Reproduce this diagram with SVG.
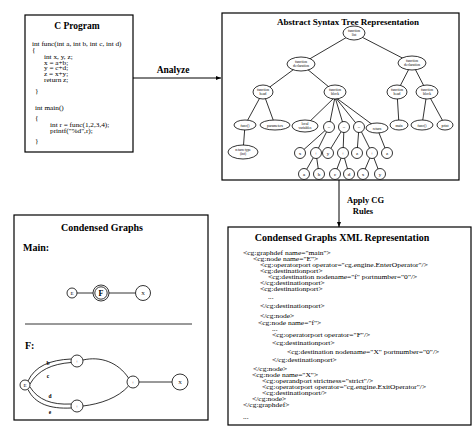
<svg xmlns="http://www.w3.org/2000/svg" width="474" height="428" viewBox="0 0 474 428">
<defs>
<style>
.box{fill:#fff;stroke:#000;stroke-width:1.2}
.t{font-family:"Liberation Serif",serif;font-weight:bold;fill:#000}
.code{font-family:"Liberation Serif",serif;font-size:6.6px;fill:#000}
.nd ellipse,.nd circle{fill:#fff;stroke:#000;stroke-width:0.8}
.lb{font-family:"Liberation Serif",serif;font-size:3.6px;text-anchor:middle;fill:#000}
.cl{font-family:"Liberation Serif",serif;font-size:5px;text-anchor:middle;fill:#000}
.e{stroke:#000;stroke-width:0.8;fill:none}
.ar{stroke:#000;stroke-width:1;fill:none}
</style>
<marker id="ah" viewBox="0 0 10 10" refX="10" refY="5" markerWidth="5" markerHeight="5" orient="auto">
<path d="M0,1 L10,5 L0,9 Z" fill="#000"/>
</marker>
</defs>
<rect width="474" height="428" fill="#fff"/>

<!-- C Program -->
<g id="c-program">
<rect class="box" x="25" y="15" width="108" height="137"/>
<text class="t" x="77" y="29" font-size="9.5" text-anchor="middle">C Program</text>
<g transform="translate(32,0) scale(1.1,1) translate(-32,0)">
<text class="code" x="32" y="46.5">int func(int a, int b, int c, int d)</text>
<text class="code" x="32" y="52.5">{</text>
<text class="code" x="42.9" y="59">int x, y, z;</text>
<text class="code" x="42.9" y="65">x = a+b;</text>
<text class="code" x="42.9" y="70.5">y = c+d;</text>
<text class="code" x="42.9" y="76">z = x+y;</text>
<text class="code" x="42.9" y="82">return z;</text>
<text class="code" x="34.7" y="93">}</text>
<text class="code" x="34.7" y="110">int main()</text>
<text class="code" x="34.7" y="120">{</text>
<text class="code" x="48.4" y="127">int r = func(1,2,3,4);</text>
<text class="code" x="48.4" y="133">printf("%d",r);</text>
<text class="code" x="34.7" y="143">}</text>
</g>
</g>

<!-- AST box -->
<g id="ast">
<rect class="box" x="222" y="13" width="237" height="167"/>
<text class="t" x="348" y="25" font-size="9" text-anchor="middle">Abstract Syntax Tree Representation</text>
</g>

<!-- Condensed Graphs box -->
<g id="condensed-graphs">
<rect class="box" x="14" y="215" width="194" height="205"/>
<text class="t" x="102" y="231" font-size="10" text-anchor="middle">Condensed Graphs</text>
<text class="t" x="23" y="251" font-size="10">Main:</text>
<line x1="25" y1="324" x2="192" y2="324" stroke="#000" stroke-width="0.8"/>
<text class="t" x="25" y="349" font-size="10">F:</text>
<text class="t" x="48" y="365" font-size="5.5" text-anchor="middle">b</text>
<text class="t" x="48" y="378" font-size="5.5" text-anchor="middle">c</text>
<text class="t" x="50" y="398" font-size="5.5" text-anchor="middle">d</text>
<text class="t" x="50" y="414" font-size="5.5" text-anchor="middle">e</text>
</g>

<!-- XML box -->
<g id="xml">
<rect class="box" x="228" y="227" width="243" height="198"/>
<text class="t" x="342" y="241" font-size="10" text-anchor="middle">Condensed Graphs XML Representation</text>
<g transform="translate(243,0) scale(1.14,1) translate(-243,0)">
<text class="code" x="243" y="255">&lt;cg:graphdef name="main"&gt;</text>
<text class="code" x="251.8" y="261">&lt;cg:node name="E"&gt;</text>
<text class="code" x="257.9" y="267">&lt;cg:operatorport operator="cg.engine.EnterOperator"/&gt;</text>
<text class="code" x="257.9" y="273">&lt;cg:destinationport&gt;</text>
<text class="code" x="264.9" y="279">&lt;cg:destination nodename="f" portnumber="0"/&gt;</text>
<text class="code" x="257.9" y="285">&lt;/cg:destinationport&gt;</text>
<text class="code" x="257.9" y="291">&lt;cg:destinationport&gt;</text>
<text class="code" x="264.9" y="299">...</text>
<text class="code" x="257.9" y="308">&lt;/cg:destinationport&gt;</text>
<text class="code" x="257.9" y="318">&lt;/cg:node&gt;</text>
<text class="code" x="256.2" y="325">&lt;cg:node name="f"&gt;</text>
<text class="code" x="268.4" y="331">...</text>
<text class="code" x="268.4" y="337.5">&lt;cg:operatorport operator="F"/&gt;</text>
<text class="code" x="268.4" y="345">&lt;cg:destinationport&gt;</text>
<text class="code" x="281.6" y="354">&lt;cg:destination nodename="X" portnumber="0"/&gt;</text>
<text class="code" x="268.4" y="362.5">&lt;/cg:destinationport&gt;</text>
<text class="code" x="251.8" y="371">&lt;/cg:node&gt;</text>
<text class="code" x="250.9" y="377.5">&lt;cg:node name="X"&gt;</text>
<text class="code" x="259.7" y="383.5">&lt;cg:operandport strictness="strict"/&gt;</text>
<text class="code" x="259.7" y="389.5">&lt;cg:operatorport operator="cg.engine.ExitOperator"/&gt;</text>
<text class="code" x="259.7" y="395.5">&lt;cg:destinationport/&gt;</text>
<text class="code" x="250.9" y="401.5">&lt;/cg:node&gt;</text>
<text class="code" x="243" y="407.5">&lt;/cg:graphdef&gt;</text>
<text class="code" x="243" y="419">...</text>
</g>
</g>

<g id="connectors">
<line class="ar" x1="133" y1="78" x2="221" y2="78" marker-end="url(#ah)"/>
<line class="ar" x1="339" y1="180" x2="339" y2="227" marker-end="url(#ah)"/>
<g class="e">
<line x1="354" y1="33" x2="301" y2="64"/>
<line x1="354" y1="33" x2="412" y2="63"/>
<line x1="301" y1="64" x2="263" y2="92"/>
<line x1="301" y1="64" x2="335" y2="92"/>
<line x1="412" y1="63" x2="397" y2="92"/>
<line x1="412" y1="63" x2="427" y2="92"/>
<line x1="263" y1="92" x2="245" y2="125"/>
<line x1="263" y1="92" x2="275" y2="125"/>
<line x1="245" y1="125" x2="243" y2="152"/>
<line x1="335" y1="97" x2="305" y2="126"/>
<line x1="335" y1="97" x2="329" y2="127"/>
<line x1="335" y1="97" x2="344" y2="127"/>
<line x1="335" y1="97" x2="359" y2="127"/>
<line x1="335" y1="97" x2="377" y2="128"/>
<line x1="329" y1="127" x2="300" y2="153"/>
<line x1="329" y1="127" x2="316" y2="153"/>
<line x1="316" y1="153" x2="304" y2="174"/>
<line x1="316" y1="153" x2="319" y2="174"/>
<line x1="344" y1="127" x2="328" y2="153"/>
<line x1="344" y1="127" x2="343" y2="153"/>
<line x1="343" y1="153" x2="335" y2="174"/>
<line x1="343" y1="153" x2="349" y2="174"/>
<line x1="359" y1="127" x2="357" y2="153"/>
<line x1="359" y1="127" x2="372" y2="153"/>
<line x1="372" y1="153" x2="363" y2="174"/>
<line x1="372" y1="153" x2="380" y2="174"/>
<line x1="377" y1="128" x2="387" y2="153"/>
<line x1="397" y1="92" x2="399" y2="125"/>
<line x1="427" y1="92" x2="422" y2="125"/>
<line x1="427" y1="92" x2="445" y2="125"/>
</g>
<g class="e">
<line x1="77" y1="293" x2="93" y2="293"/>
<line x1="109" y1="293" x2="135.5" y2="293"/>
<path d="M28,381 C35,366 50,360 71,359"/>
<path d="M30,384 C38,370 52,364 71,362.5"/>
<path d="M30,387 C38,400 52,405 71,404"/>
<path d="M28,389.5 C35,404 50,409 71,408"/>
<path d="M83,360 C100,356 118,362 128.5,378"/>
<path d="M83,406 C100,404 118,398 128.5,386"/>
<line x1="139" y1="382" x2="172" y2="382"/>
</g>
</g>

<text class="t" x="173" y="73" font-size="9.5" text-anchor="middle">Analyze</text>
<text class="t" x="347" y="203" font-size="8.5">Apply CG</text>
<text class="t" x="363" y="214" font-size="8.5" text-anchor="middle">Rules</text>

<g id="ast-nodes">
<g class="nd" id="n-root"><ellipse cx="354" cy="33" rx="11" ry="7"/><text class="lb" x="354" y="32">function</text><text class="lb" x="354" y="36">list</text></g>
<g class="nd" id="n-declL"><ellipse cx="301" cy="64" rx="14" ry="7"/><text class="lb" x="301" y="63">function</text><text class="lb" x="301" y="67">declaration</text></g>
<g class="nd" id="n-declR"><ellipse cx="412" cy="63" rx="14" ry="7"/><text class="lb" x="412" y="62">function</text><text class="lb" x="412" y="66">declaration</text></g>
<g class="nd" id="n-headL"><ellipse cx="263" cy="92" rx="10" ry="7"/><text class="lb" x="263" y="91">function</text><text class="lb" x="263" y="95">head</text></g>
<g class="nd" id="n-blockL"><ellipse cx="335" cy="92" rx="11" ry="7"/><text class="lb" x="335" y="91">function</text><text class="lb" x="335" y="95">block</text></g>
<g class="nd" id="n-headR"><ellipse cx="397" cy="92" rx="10" ry="7"/><text class="lb" x="397" y="91">function</text><text class="lb" x="397" y="95">head</text></g>
<g class="nd" id="n-blockR"><ellipse cx="427" cy="92" rx="11" ry="7"/><text class="lb" x="427" y="91">function</text><text class="lb" x="427" y="95">block</text></g>
<g class="nd" id="n-funcL"><ellipse cx="245" cy="125" rx="11" ry="5"/><text class="lb" x="245" y="126.5">func()</text></g>
<g class="nd" id="n-params"><ellipse cx="275" cy="125" rx="15" ry="5"/><text class="lb" x="275" y="126.5">parameters</text></g>
<g class="nd" id="n-ret"><ellipse cx="243" cy="152" rx="15" ry="7"/><text class="lb" x="243" y="151">return type</text><text class="lb" x="243" y="155">(int)</text></g>
<g class="nd" id="n-local"><ellipse cx="305" cy="126" rx="13" ry="6"/><text class="lb" x="305" y="125">local</text><text class="lb" x="305" y="129">variables</text></g>
<g class="nd" id="n-eq1"><circle cx="329" cy="127" r="5.5"/><text class="cl" x="329" y="128.8">=</text></g>
<g class="nd" id="n-eq2"><circle cx="344" cy="127" r="5.5"/><text class="cl" x="344" y="128.8">=</text></g>
<g class="nd" id="n-eq3"><circle cx="359" cy="127" r="5.5"/><text class="cl" x="359" y="128.8">=</text></g>
<g class="nd" id="n-return"><ellipse cx="377" cy="128" rx="11" ry="5"/><text class="lb" x="377" y="129.5">return</text></g>
<g class="nd" id="n-main"><ellipse cx="399" cy="125" rx="9" ry="5"/><text class="lb" x="399" y="126.5">main</text></g>
<g class="nd" id="n-funcR"><ellipse cx="422" cy="125" rx="11" ry="5"/><text class="lb" x="422" y="126.5">func()</text></g>
<g class="nd" id="n-print"><ellipse cx="445" cy="125" rx="8" ry="5"/><text class="lb" x="445" y="126.5">print</text></g>
<g class="nd" id="n-x1"><circle cx="300" cy="153" r="5.5"/><text class="cl" x="300" y="154.6">x</text></g>
<g class="nd" id="n-p1"><circle cx="316" cy="153" r="5.5"/><text class="cl" x="316" y="154.6">+</text></g>
<g class="nd" id="n-y1"><circle cx="328" cy="153" r="5.5"/><text class="cl" x="328" y="154.6">y</text></g>
<g class="nd" id="n-p2"><circle cx="343" cy="153" r="5.5"/><text class="cl" x="343" y="154.6">+</text></g>
<g class="nd" id="n-z1"><circle cx="357" cy="153" r="5.5"/><text class="cl" x="357" y="154.6">z</text></g>
<g class="nd" id="n-p3"><circle cx="372" cy="153" r="5.5"/><text class="cl" x="372" y="154.6">+</text></g>
<g class="nd" id="n-z2"><circle cx="387" cy="153" r="5.5"/><text class="cl" x="387" y="154.6">z</text></g>
<g class="nd" id="n-a"><circle cx="304" cy="174" r="5.5"/><text class="cl" x="304" y="175.6">a</text></g>
<g class="nd" id="n-b"><circle cx="319" cy="174" r="5.5"/><text class="cl" x="319" y="175.6">b</text></g>
<g class="nd" id="n-c"><circle cx="335" cy="174" r="5.5"/><text class="cl" x="335" y="175.6">c</text></g>
<g class="nd" id="n-d"><circle cx="349" cy="174" r="5.5"/><text class="cl" x="349" y="175.6">d</text></g>
<g class="nd" id="n-x2"><circle cx="363" cy="174" r="5.5"/><text class="cl" x="363" y="175.6">x</text></g>
<g class="nd" id="n-y2"><circle cx="380" cy="174" r="5.5"/><text class="cl" x="380" y="175.6">y</text></g>
</g>

<g id="cg-nodes">
<g class="nd" id="m-E"><circle cx="72" cy="293" r="5"/><text class="cl" x="72" y="294.7">E</text></g>
<g class="nd" id="m-F"><circle cx="101" cy="293" r="8"/><circle cx="101" cy="293" r="6.2"/><text class="t" x="101" y="295.8" font-size="8" text-anchor="middle">F</text></g>
<g class="nd" id="m-X"><circle cx="143" cy="293" r="7.5"/><text class="cl" x="143" y="294.8" font-size="6">X</text></g>
<g class="nd" id="f-E"><circle cx="25" cy="385" r="5"/><text class="cl" x="25" y="386.7">E</text></g>
<g class="nd" id="f-p1"><circle cx="77" cy="361" r="6"/><text class="cl" x="77" y="362.7">+</text></g>
<g class="nd" id="f-p2"><circle cx="77" cy="406" r="6"/><text class="cl" x="77" y="407.7">+</text></g>
<g class="nd" id="f-p3"><circle cx="133" cy="382" r="6"/><text class="cl" x="133" y="383.7">+</text></g>
<g class="nd" id="f-X"><circle cx="180" cy="382" r="8"/><text class="cl" x="180" y="384" font-size="6.5">X</text></g>
</g>
</svg>
